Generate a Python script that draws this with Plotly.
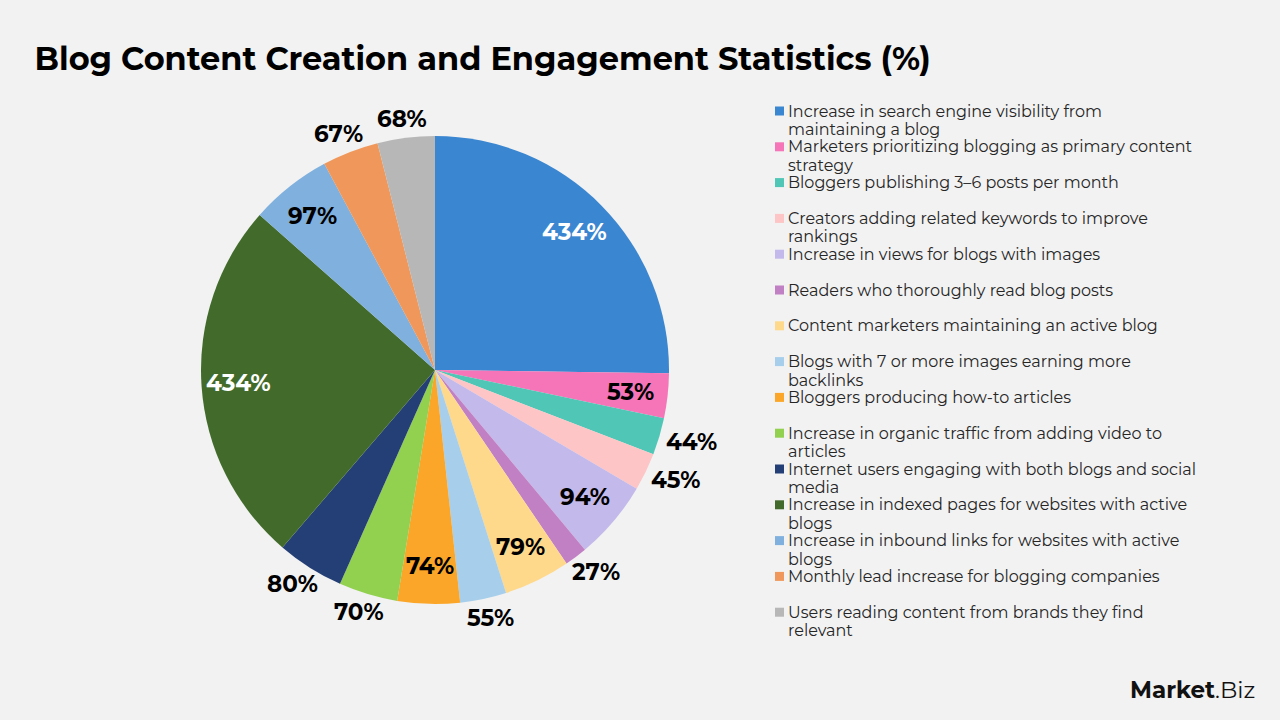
import math
import plotly.graph_objects as go

labels = [
    "Increase in search engine visibility from<br>maintaining a blog",
    "Marketers prioritizing blogging as primary content<br>strategy",
    "Bloggers publishing 3–6 posts per month",
    "Creators adding related keywords to improve<br>rankings",
    "Increase in views for blogs with images",
    "Readers who thoroughly read blog posts",
    "Content marketers maintaining an active blog",
    "Blogs with 7 or more images earning more<br>backlinks",
    "Bloggers producing how-to articles",
    "Increase in organic traffic from adding video to<br>articles",
    "Internet users engaging with both blogs and social<br>media",
    "Increase in indexed pages for websites with active<br>blogs",
    "Increase in inbound links for websites with active<br>blogs",
    "Monthly lead increase for blogging companies",
    "Users reading content from brands they find<br>relevant",
]
values = [434, 53, 44, 45, 94, 27, 79, 55, 74, 70, 80, 434, 97, 67, 68]
colors = ["#3A86D0", "#F575B8", "#4FC6B6", "#FDC5C5", "#C3B9EA", "#C17FC4",
          "#FED88B", "#A7CFEB", "#FBA628", "#92D050", "#243F75", "#426B2B",
          "#7FB0DE", "#F0985B", "#B7B7B7"]
positions = ["inside", "inside", "outside", "outside", "inside", "outside",
             "inside", "outside", "inside", "outside", "outside", "inside",
             "inside", "outside", "outside"]
text_colors = ["white", "black", "black", "black", "black", "black", "black",
               "black", "black", "black", "black", "white", "black", "black", "black"]

W, H = 1280, 720
CX, CY, R = 435, 370, 234  # pie centre / radius in pixels

fig = go.Figure(go.Pie(
    labels=labels,
    values=values,
    sort=False,
    direction="clockwise",
    rotation=0,
    marker=dict(colors=colors, line=dict(width=0)),
    textinfo="none",
    domain=dict(x=[(CX - R) / W, (CX + R) / W], y=[1 - (CY + R) / H, 1 - (CY - R) / H]),
    hoverinfo="label+value",
    showlegend=False,
))

# value labels placed at slice mid-angles
total = sum(values)
cum = 0
for v, pos, tc in zip(values, positions, text_colors):
    mid = (cum + v / 2) / total * 2 * math.pi
    cum += v
    s, c = math.sin(mid), math.cos(mid)
    if pos == "inside":
        px = CX + R * 0.84 * s
        py = CY - R * 0.84 * c
    else:
        # label box sits just outside the rim
        px = CX + R * 1.03 * s + 26 * s
        py = CY - R * 1.03 * c - 12 * c
    fig.add_annotation(text=f"<b>{v}%</b>", x=px / W, y=1 - py / H, xref="paper", yref="paper",
                       showarrow=False, xanchor="center", yanchor="middle",
                       font=dict(family="Montserrat, Inter, sans-serif", size=23, color=tc))

# legend drawn to match the original fixed row spacing
LX, LY0, STEP, LINE = 775, 111, 35.8, 18.5
for i, (lab, col) in enumerate(zip(labels, colors)):
    y = LY0 + i * STEP
    fig.add_shape(type="rect", xref="paper", yref="paper",
                  x0=LX / W, x1=(LX + 9) / W, y0=1 - (y - 4.5) / H, y1=1 - (y + 4.5) / H,
                  fillcolor=col, line=dict(width=0))
    for j, line in enumerate(lab.split("<br>")):
        fig.add_annotation(text=line, x=(LX + 11) / W, y=1 - (y + j * LINE) / H,
                           xref="paper", yref="paper", showarrow=False,
                           xanchor="left", yanchor="middle",
                           font=dict(family="Montserrat, DejaVu Sans, sans-serif", size=16, color="#262626"))

fig.update_layout(
    width=W, height=H,
    paper_bgcolor="#F2F2F2", plot_bgcolor="#F2F2F2",
    margin=dict(l=0, r=0, t=0, b=0),
    title=dict(text="<b>Blog Content Creation and Engagement Statistics (%)</b>",
               x=0.027, xanchor="left", y=0.918, yanchor="middle",
               font=dict(family="Montserrat, Inter, sans-serif", size=32, color="black")),
    showlegend=False,
)

fig.add_annotation(text="<b>Market</b>.Biz", xref="paper", yref="paper",
                   x=0.982, y=0.02, xanchor="right", yanchor="bottom", showarrow=False,
                   font=dict(family="Montserrat, Inter, sans-serif", size=23, color="#111111"))

fig.write_html("out.html")
